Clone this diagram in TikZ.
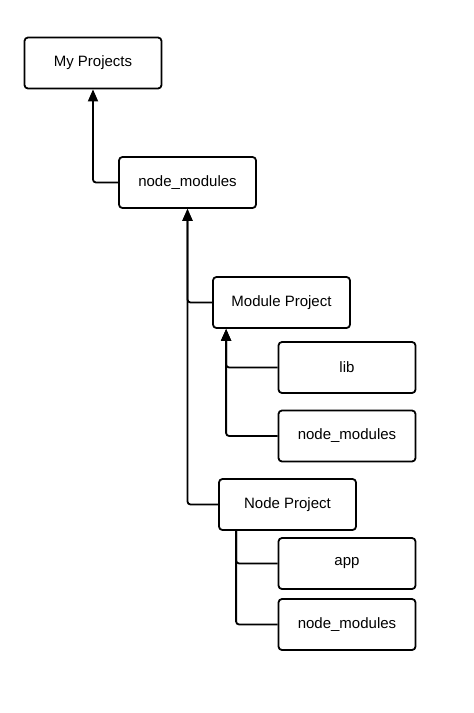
\documentclass[tikz,border=0pt]{standalone}
\usepackage{fontspec}
\setmainfont{Liberation Sans}
\usetikzlibrary{arrows.meta}
\tikzset{
  box/.style={draw, line width=1.8pt, rounded corners=3.5pt, minimum width=137pt, minimum height=51pt, inner sep=0pt, font=\fontsize{15}{18}\selectfont},
  link/.style={line width=1.8pt, rounded corners=3pt},
  uplink/.style={link, -{Triangle[width=10pt,length=12pt]}}
}
\begin{document}
\begin{tikzpicture}[x=1pt,y=-1pt]
                    \useasboundingbox (0,0) rectangle (474,713);

                    % Drawing boxes
                    \node (myproj) at (93.000000,63.000000) [box] {My Projects};%
                    \node (nmtop) at (187.500000,182.500000) [box] {node\_modules};%
                    \node (modproj) at (281.500000,302.500000) [box] {Module Project};%
                    \node (lib) at (347.000000,367.500000) [box] {lib};%
                    \node (nmmod) at (347.000000,436.000000) [box] {node\_modules};%
                    \node (nodeproj) at (287.500000,504.500000) [box] {Node Project};%
                    \node (app) at (347.000000,563.500000) [box] {app};%
                    \node (nmnode) at (347.000000,624.500000) [box] {node\_modules};%

                    % Drawing links to My Projects
                    \draw [uplink] (nmtop.west) -| (myproj.south);%

                    % Drawing links to node_modules
                    \draw [uplink] (modproj.west) -| (nmtop.south);%
                    \draw [uplink] (nodeproj.west) -| (nmtop.south);%

                    % Drawing links to Module Project
                    \coordinate (modfoot) at ([xshift=14pt]modproj.south west);%
                    \draw [uplink] (lib.west) -| (modfoot);%
                    \draw [uplink] (nmmod.west) -| (modfoot);%

                    % Drawing links from Node Project
                    \coordinate (nodefoot) at ([xshift=18pt]nodeproj.south west);%
                    \draw [link] (nodefoot) |- (app.west);%
                    \draw [link] (nodefoot) |- (nmnode.west);%
\end{tikzpicture}
\end{document}
